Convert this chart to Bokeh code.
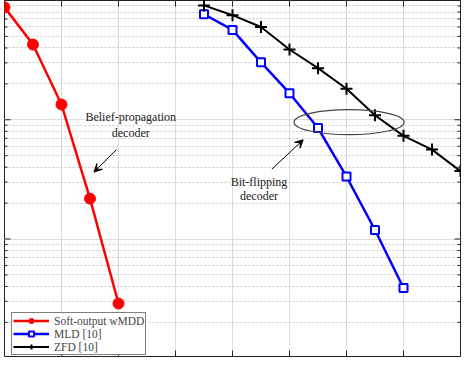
import math
from bokeh.plotting import figure
from bokeh.models import (Arrow, VeeHead, Legend, LegendItem, ColumnDataSource, FixedTicker)
from bokeh.core.properties import value
from bokeh.embed import file_html
from bokeh.resources import INLINE

# ---- data ----
snr_soft = [0, 1, 2, 3, 4]
ber_soft = [0.0876, 0.0427, 0.01343, 0.00218, 0.000288]

snr_mld = [7, 8, 9, 10, 11, 12, 13, 14]
ber_mld = [0.0767, 0.0567, 0.0303, 0.0167, 0.00853, 0.00334, 0.00119, 0.000389]

snr_zfd = [7, 8, 9, 10, 11, 12, 13, 14, 15, 16]
ber_zfd = [0.0910, 0.0753, 0.0600, 0.0388, 0.0271, 0.0182, 0.0109, 0.00733, 0.00562, 0.00371]

x_ticks = [0, 2, 4, 6, 8, 10, 12, 14, 16]
y_decades = [1e-4, 1e-3, 1e-2, 1e-1]
y_mantissas = [2, 3, 4, 5, 6, 7, 8, 9]

note_x = [4.43, 4.43, 8.93, 8.93]
note_y = [0.0105, 0.00776, 0.00301, 0.00231]
note_text = ["Belief-propagation", "decoder", "Bit-flipping", "decoder"]

ellipse_x = [12.09]
ellipse_y = [0.00955]

arrows = [  # x_start, y_start, x_end, y_end
    (3.93, 0.00562, 3.14, 0.00364),
    (9.38, 0.00385, 10.48, 0.00679),
]

FONT = "Liberation Serif"
X0, X1 = 0, 16
Y0, Y1 = 10 ** -3.985, 0.1

p = figure(width=466, height=358, x_range=(X0, X1), y_range=(Y0, Y1),
           y_axis_type="log", output_backend="svg", toolbar_location=None,
           min_border_left=4, min_border_top=0, min_border_right=6, min_border_bottom=2)
p.axis.visible = False

p.outline_line_color = "#222222"
p.outline_line_width = 1
p.background_fill_color = "white"
p.border_fill_color = "white"

xt = FixedTicker(ticks=x_ticks)
p.xgrid.ticker = xt
p.xgrid.grid_line_color = "#dcdcdc"
p.ygrid.grid_line_color = "#dcdcdc"
p.ygrid.minor_grid_line_color = "#c8c8c8"
p.ygrid.minor_grid_line_dash = "2 2"

# ---- inward tick marks on all four sides ----
y_minor = [d * m for d in y_decades for m in y_mantissas if d * m < Y1]
tick_col = "#222222"
p.ray(x=x_ticks, y=[Y0] * len(x_ticks), length=6, length_units="screen",
      angle=math.pi / 2, line_color=tick_col, line_width=1)
p.ray(x=x_ticks, y=[Y1] * len(x_ticks), length=6, length_units="screen",
      angle=-math.pi / 2, line_color=tick_col, line_width=1)
p.ray(x=[X0] * len(y_decades), y=y_decades, length=6, length_units="screen",
      angle=0, line_color=tick_col, line_width=1)
p.ray(x=[X1] * len(y_decades), y=y_decades, length=6, length_units="screen",
      angle=math.pi, line_color=tick_col, line_width=1)
p.ray(x=[X0] * len(y_minor), y=y_minor, length=3, length_units="screen",
      angle=0, line_color=tick_col, line_width=1)
p.ray(x=[X1] * len(y_minor), y=y_minor, length=3, length_units="screen",
      angle=math.pi, line_color=tick_col, line_width=1)

# ---- series ----
r1l = p.line(snr_soft, ber_soft, line_color="#ff0000", line_width=2.5)
r1m = p.scatter(snr_soft, ber_soft, marker="circle", size=11,
                fill_color="#ff0000", line_color="#ff0000")

r2l = p.line(snr_mld, ber_mld, line_color="#0000ff", line_width=2.5)
r2m = p.scatter(snr_mld, ber_mld, marker="square", size=8,
                fill_color="white", line_color="#0000ff", line_width=2)

r3l = p.line(snr_zfd, ber_zfd, line_color="black", line_width=2)
r3m = p.scatter(snr_zfd, ber_zfd, marker="cross", size=12,
                line_color="black", line_width=2)

# ---- annotations ----
p.ellipse(x=ellipse_x, y=ellipse_y, width=110, height=25,
          width_units="screen", height_units="screen",
          fill_color=None, line_color="#444444", line_width=1.2)

for xs, ys, xe, ye in arrows:
    p.add_layout(Arrow(end=VeeHead(size=8, fill_color="black", line_color="black"),
                       x_start=xs, y_start=ys, x_end=xe, y_end=ye,
                       line_color="black", line_width=1))

src = ColumnDataSource(dict(x=note_x, y=note_y, t=note_text))
p.text(x="x", y="y", text="t", source=src, text_font=value(FONT),
       text_font_size="12px", text_align="center", text_baseline="middle",
       text_color="#222222")

# ---- legend ----
legend = Legend(items=[
    LegendItem(label="Soft-output wMDD", renderers=[r1l, r1m]),
    LegendItem(label="MLD [10]", renderers=[r2l, r2m]),
    LegendItem(label="ZFD [10]", renderers=[r3l, r3m]),
], location=(7, 1))
legend.border_line_color = "black"
legend.border_line_width = 1
legend.background_fill_color = "white"
legend.background_fill_alpha = 1
legend.padding = 1
legend.spacing = 0
legend.margin = 0
legend.label_text_font = FONT
legend.label_text_font_size = "11.5px"
legend.label_height = 13
legend.glyph_height = 13
legend.glyph_width = 36
legend.label_standoff = 5
p.add_layout(legend)

open("out.html", "w").write(file_html(p, INLINE))
